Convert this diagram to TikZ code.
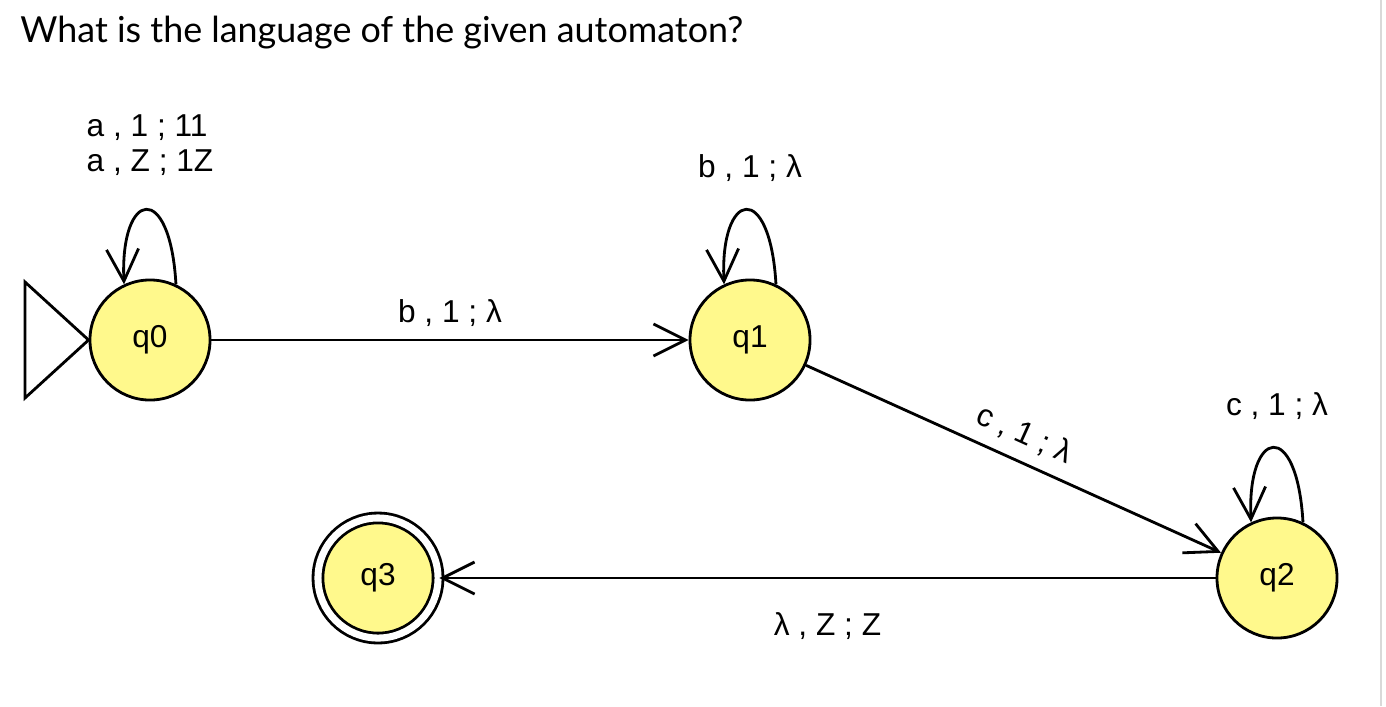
\documentclass[tikz,border=0pt]{standalone}
\usepackage{fontspec}
\setmainfont{Liberation Sans}
\newfontfamily\titlefont{Lato}
\usetikzlibrary{arrows.meta}
\begin{document}
\begin{tikzpicture}[x=0.01cm,y=-0.01cm,
  st/.style={circle,draw,thick,fill=yellow!45,minimum size=1.2cm,inner sep=0pt,font=\fontsize{9}{10}\selectfont},
  lbl/.style={font=\fontsize{9}{10}\selectfont},
  tr/.style={thick,-{Straight Barb[length=3.2mm,width=3.2mm]}}]
\useasboundingbox (0,0) rectangle (1386,706);
\draw[gray!30] (1381,0) -- (1381,706);
\node[anchor=west,font=\titlefont\fontsize{10.2}{12}\selectfont] (title) at (8,33) {What is the language of the given automaton?};
\node[st] (q0) at (150,340) {q0};
\node[st] (q1) at (750,340) {q1};
\node[st] (q2) at (1277,578) {q2};
\node[st,double,double distance=2pt] (q3) at (378,578) {q3};
\coordinate (i1) at (25,282); \coordinate (i2) at (25,398);
\draw[thick] (i1) -- (q0.west) -- (i2) -- cycle;
\draw[tr] (q0) -- node[lbl,above] {b , 1 ; λ} (q1);
\draw[tr] (q1) -- node[lbl,above,sloped,pos=0.5] {c , 1 ; λ} (q2);
\draw[tr] (q2) -- node[lbl,below=6pt] {λ , Z ; Z} (q3);
\draw[tr] (q0.65) .. controls (170,180) and (120,190) .. (q0.115);
\draw[tr] (q1.65) .. controls (770,180) and (720,190) .. (q1.115);
\draw[tr] (q2.65) .. controls (1297,418) and (1247,428) .. (q2.115);
\node[lbl,align=left] (l0) at (150,145) {a , 1 ; 11\\a , Z ; 1Z};
\node[lbl] (l1) at (750,168) {b , 1 ; λ};
\node[lbl] (l2) at (1277,406) {c , 1 ; λ};
\end{tikzpicture}
\end{document}
